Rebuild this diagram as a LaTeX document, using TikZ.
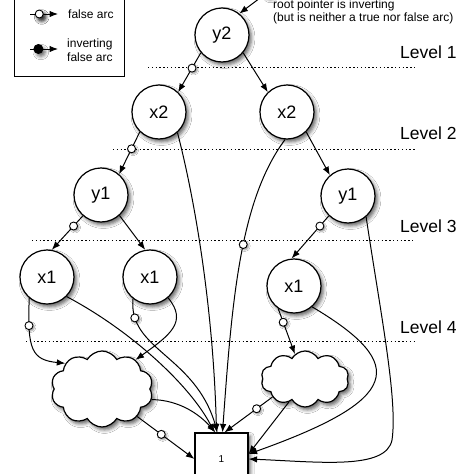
\documentclass[tikz,border=0pt]{standalone}
\usepackage{fontspec}
\setmainfont{Liberation Sans}
\usetikzlibrary{arrows.meta,shapes.symbols,shadows.blur,calc}
\begin{document}
\begin{tikzpicture}[x=1pt,y=-1pt,
  shd/.style={blur shadow={shadow xshift=2.5pt,shadow yshift=-3pt,shadow blur radius=3.5pt,shadow opacity=60}},
  sshd/.style={blur shadow={shadow xshift=1.5pt,shadow yshift=-1.5pt,shadow blur radius=1.5pt,shadow opacity=40}},
  vnode/.style={circle,draw,line width=1.2pt,fill=white,minimum size=54pt,inner sep=0pt,font=\fontsize{18}{18}\selectfont,shd},
  cloudnode/.style={cloud,draw,line width=1.2pt,fill=white,cloud puffs=10,cloud puff arc=120,inner sep=0pt,shd},
  boxnode/.style={rectangle,draw,line width=1.2pt,fill=white,minimum width=53pt,minimum height=52pt,inner sep=0pt,font=\fontsize{10}{10}\selectfont,shd},
  arc/.style={line width=1pt,-{Latex[length=8.5pt,width=6.5pt]}},
  fc/.style={circle,draw,fill=white,line width=0.9pt,inner sep=0pt,minimum size=8pt,sshd},
  ifc/.style={circle,draw,fill=black,line width=0.9pt,inner sep=0pt,minimum size=9pt},
  lvl/.style={dash pattern=on 1.3pt off 2.5pt,line width=1pt},
  lvltext/.style={font=\fontsize{17.5}{17.5}\selectfont,anchor=west,inner sep=0pt},
  smalltext/.style={font=\fontsize{12}{14}\selectfont,align=left,anchor=west,inner sep=0pt}
]
\useasboundingbox (0,0) rectangle (474,474);
\fill[white] (0,0) rectangle (474,474);

% level lines
\draw[lvl] (148,67) -- (415,67);
\draw[lvl] (113,149) -- (415,149);
\draw[lvl] (32,240) -- (415,240);
\draw[lvl] (26,341) -- (415,341);
\node[lvltext] (L1) at (400,52) {Level 1};
\node[lvltext] (L2) at (400,133) {Level 2};
\node[lvltext] (L3) at (400,226) {Level 3};
\node[lvltext] (L4) at (400,327) {Level 4};

% legend
\draw[line width=1pt] (14,-10) rectangle (124,76);
\coordinate (la1) at (30,14); \coordinate (lb1) at (58,14);
\coordinate (la2) at (30,49); \coordinate (lb2) at (58,49);
\draw[arc] (la1) -- node[fc,pos=0.33,shd]{} (lb1);
\draw[arc] (la2) -- node[ifc,pos=0.3,shd]{} (lb2);
\node[smalltext] (t1) at (68,14) {false arc};
\node[smalltext] (t2) at (67,50) {inverting\\false arc};

% root text
\node[smalltext,font=\fontsize{12}{12.5}\selectfont] (rt) at (273,12) {root pointer is inverting\\(but is neither a true nor false arc)};

% nodes
\node[vnode] (y2) at (222,35) {y2};
\node[vnode] (x2L) at (159,112) {x2};
\node[vnode] (x2R) at (287,112) {x2};
\node[vnode] (y1L) at (101,195) {y1};
\node[vnode] (y1R) at (348,196) {y1};
\node[vnode] (x1a) at (47,277) {x1};
\node[vnode] (x1b) at (150,277) {x1};
\node[vnode] (x1c) at (294,286) {x1};
\node[cloudnode,minimum width=102pt,minimum height=76pt,aspect=1.35] (cL) at (102,389) {};
\node[cloudnode,minimum width=88pt,minimum height=56pt,aspect=1.55] (cR) at (305,379) {};
\node[boxnode] (one) at (221.5,459) {1};

% root pointer
\node[ifc,shd] (rdot) at (268,-8) {};
\draw[arc] (rdot) -- (y2.51);

% edges
\draw[arc] (y2.220) -- node[fc,pos=0.39]{} (x2L.46);
\draw[arc] (y2.320) -- (x2R.134);
\draw[arc] (x2L.226) -- node[fc,pos=0.4]{} (y1L.49);
\draw[arc] (x2L.312) .. controls (200,220) and (214,330) .. ([xshift=-5pt]one.north);
\draw[arc] (x2R.314) -- (y1R.131);
\draw[arc] (x2R.266) .. controls (240,200) and (232,300) .. ([xshift=1pt]one.north) node[fc,pos=0.45]{};
\draw[arc] (y1L.229) -- node[fc,pos=0.3]{} (x1a.80);
\draw[arc] (y1L.312) -- (x1b.100);
\draw[arc] (y1R.226) -- node[fc,pos=0.24]{} (x1c.95);
\draw[arc] (y1R.311) .. controls (380,310) and (398,400) .. (392,440) .. controls (386,470) and (320,462) .. (one.east);
\draw[arc] (x1c.235) -- node[fc,pos=0.3]{} (cR.112);
\draw[arc] (x1c.311) .. controls (410,365) and (400,400) .. ([yshift=5pt]one.east);
\draw[arc] (cR.235) -- ([yshift=5pt]one.east);
\draw[arc] (cR.209) -- node[fc,pos=0.33]{} ([xshift=3pt]one.north);
\draw[arc] (x1a.230) .. controls (27,350) and (32,360) .. (cL.145) node[fc,pos=0.21]{};
\draw[arc] (x1a.315) .. controls (130,330) and (190,385) .. ([xshift=-7pt]one.north);
\draw[arc] (x1b.311) .. controls (188,322) and (170,335) .. (cL.41);
\draw[arc] (x1b.232) .. controls (128,350) and (195,355) .. ([xshift=-4pt]one.north) node[fc,pos=0.14]{};
\draw[arc] (cL.348) .. controls (180,400) and (200,415) .. ([xshift=-6pt]one.north);
\draw[arc] (cL.322) -- node[fc,pos=0.42]{} (one.west);
\end{tikzpicture}
\end{document}
